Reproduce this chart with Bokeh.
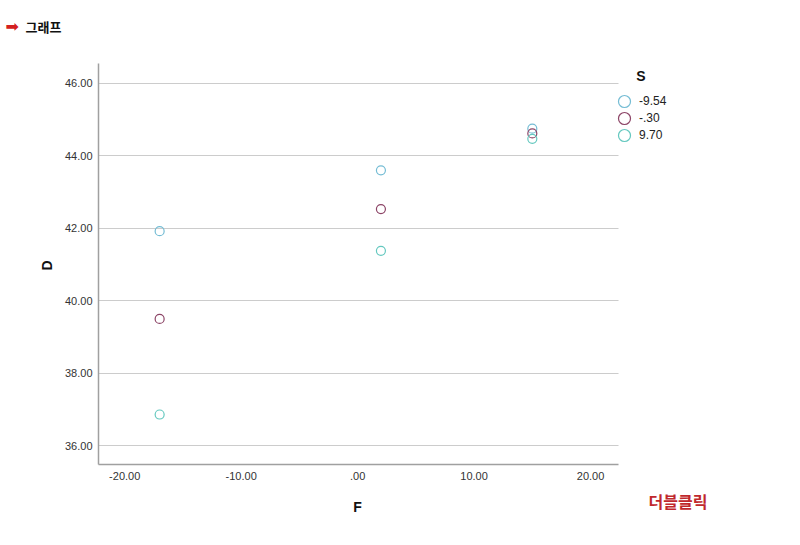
import math
from bokeh.plotting import figure
from bokeh.models import (FixedTicker, CustomJSTickFormatter, Legend, LegendItem,
                          Label, Range1d)
from bokeh.embed import file_html
from bokeh.resources import INLINE

# ---- data ----
f_values = [-17, 2, 15]
s_labels = ["-9.54", "-.30", "9.70"]
d_s1 = [41.92, 43.60, 44.75]
d_s2 = [39.50, 42.53, 44.62]
d_s3 = [36.86, 41.38, 44.47]
series_values = [d_s1, d_s2, d_s3]
series_colors = ["#74bcd4", "#8c4466", "#64c8bf"]
x_ticks = [-20, -10, 0, 10, 20]
y_ticks = [36, 38, 40, 42, 44, 46]

# axis extents (data units) and the canvas-wide view ranges
X_LO, X_HI = -22.25, 22.4
Y_LO, Y_HI = 35.48, 46.55

FONT = "Liberation Sans"
KFONT = "Noto Sans CJK KR"

p = figure(width=784, height=529, output_backend="svg", toolbar_location=None,
           x_range=Range1d(-30.665, 36.654), y_range=Range1d(33.686, 48.289),
           min_border_left=0, min_border_right=0, min_border_top=0,
           min_border_bottom=0)
p.outline_line_color = None
p.background_fill_color = "white"
p.border_fill_color = "white"

fmt = CustomJSTickFormatter(code="""
let s = tick.toFixed(2);
if (s.startsWith("0.")) s = s.slice(1);
if (s.startsWith("-0.")) s = "-" + s.slice(2);
return s;
""")

for ax in (p.xaxis[0], p.yaxis[0]):
    ax.formatter = fmt
    ax.major_tick_in = 0
    ax.major_tick_out = 0
    ax.minor_tick_in = 0
    ax.minor_tick_out = 0
    ax.axis_line_color = "#a0a0a0"
    ax.axis_line_width = 1.5
    ax.major_label_text_font = FONT
    ax.major_label_text_font_size = "11px"
    ax.major_label_text_color = "#333333"

xa, ya = p.xaxis[0], p.yaxis[0]
xa.ticker = FixedTicker(ticks=x_ticks)
ya.ticker = FixedTicker(ticks=y_ticks)
xa.fixed_location = Y_LO
ya.fixed_location = X_LO
xa.bounds = (X_LO, X_HI)
ya.bounds = (Y_LO, Y_HI)
xa.major_label_standoff = 7
ya.major_label_standoff = 6

p.xgrid.grid_line_color = None
g = p.ygrid[0]
if "cross_bounds" in g.properties():
    g.cross_bounds = (X_LO, X_HI)
    g.grid_line_color = "#cccccc"
    g.grid_line_width = 1.2
else:
    g.grid_line_color = None
    p.segment(x0=[X_LO] * len(y_ticks), x1=[X_HI] * len(y_ticks),
              y0=y_ticks, y1=y_ticks, line_color="#cccccc", line_width=1.2)

renderers = []
for vals, col in zip(series_values, series_colors):
    r = p.scatter(f_values, vals, size=9, marker="circle", fill_color=None,
                  line_color=col, line_width=1.2)
    renderers.append(r)

# legend: one Legend per entry so the glyphs can be large with a tight pitch
leg_bottoms = [413, 396, 379]
for i, (lab, r, yb) in enumerate(zip(s_labels, renderers, leg_bottoms)):
    kw = {}
    if i == 0:
        kw = dict(title="\u00a0" * 7 + "S", title_text_font=FONT,
                  title_text_font_size="14px", title_text_font_style="bold",
                  title_text_color="#111111", title_standoff=2)
    lg = Legend(items=[LegendItem(label=lab, renderers=[r])], location=(609, yb),
                label_text_font=FONT, label_text_font_size="12px",
                label_text_color="#222222",
                glyph_width=30, glyph_height=30, label_height=17,
                label_standoff=0, spacing=0, padding=0, margin=0,
                background_fill_alpha=0, border_line_alpha=0, **kw)
    p.add_layout(lg, "center")

# axis titles
p.add_layout(Label(x=357, y=23, x_units="screen", y_units="screen", text="F",
                   text_font=FONT, text_font_size="14px", text_font_style="bold",
                   text_color="#111111", text_align="center",
                   text_baseline="middle"))
p.add_layout(Label(x=46, y=264, x_units="screen", y_units="screen", text="D",
                   angle=math.pi / 2, text_font=FONT, text_font_size="14px",
                   text_font_style="bold", text_color="#111111",
                   text_align="center", text_baseline="middle"))

# header and footer texts
p.add_layout(Label(x=5, y=503, x_units="screen", y_units="screen", text="➡",
                   text_font="DejaVu Sans", text_font_size="16px",
                   text_color="#d42020", text_baseline="middle"))
p.add_layout(Label(x=25, y=503, x_units="screen", y_units="screen", text="그래프",
                   text_font=KFONT, text_font_size="13px",
                   text_font_style="bold", text_color="#111111",
                   text_baseline="middle"))
p.add_layout(Label(x=648, y=29, x_units="screen", y_units="screen", text="더블클릭",
                   text_font=KFONT, text_font_size="16px",
                   text_font_style="bold", text_color="#c0282d",
                   text_baseline="middle"))

open("out.html", "w").write(file_html(p, INLINE))
